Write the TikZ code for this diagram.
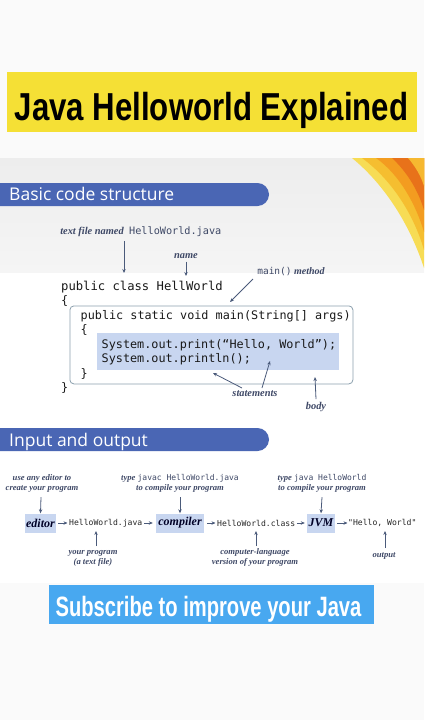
\documentclass[tikz,border=0pt]{standalone}
\usepackage{fontspec}
\setmainfont{Liberation Serif}
\newfontfamily\titlefont{Liberation Sans}
\newfontfamily\bannerfont{Open Sans}
\newfontfamily\codefont{DejaVu Sans Mono}
\usetikzlibrary{arrows.meta}
\definecolor{pagebg}{HTML}{FAFAFA}
\definecolor{slidegrey}{HTML}{EDEDED}
\definecolor{slidegreyb}{HTML}{F5F5F5}
\definecolor{ttlyellow}{HTML}{F5E035}
\definecolor{bannerblue}{HTML}{4A66B4}
\definecolor{subblue}{HTML}{48A8F0}
\definecolor{lblcol}{HTML}{3E4866}
\definecolor{arrcol}{HTML}{4A5A7A}
\definecolor{boxblue}{HTML}{C8D6F0}
\definecolor{bodyborder}{HTML}{8CA0AE}
\definecolor{swA}{HTML}{F7DC55}
\definecolor{swB}{HTML}{F5BE30}
\definecolor{swC}{HTML}{F39C20}
\definecolor{swD}{HTML}{E8721A}
\definecolor{swE}{HTML}{F6B830}
\tikzset{
  code/.style={inner sep=0pt, anchor=base west, font=\codefont\fontsize{11.8}{12}\selectfont, text=black!90},
  lbl/.style={inner sep=0pt, align=center, text=lblcol, font=\itshape\bfseries\fontsize{8.6}{10}\selectfont},
  biglbl/.style={inner sep=0pt, align=center, text=lblcol, font=\itshape\bfseries\fontsize{10.4}{11}\selectfont},
  rowmono/.style={inner sep=0pt, font=\codefont\fontsize{8.1}{9}\selectfont, text=black!85},
  proc/.style={fill=boxblue, inner sep=0pt, minimum height=19pt, text=black!85!blue, font=\itshape\bfseries\fontsize{12}{12}\selectfont},
  arr/.style={draw=arrcol, line width=0.8pt, -{Stealth[length=4pt,width=3.4pt]}},
  bannertext/.style={inner sep=0pt, anchor=base west, text=white, font=\bannerfont\fontsize{17.5}{17}\selectfont}
}
\begin{document}
\begin{tikzpicture}[x=1pt,y=-1pt]
\useasboundingbox (0,0) rectangle (424,720);
\fill[pagebg] (0,0) rectangle (424,720);
% slide
\fill[white] (0,158) rectangle (424,583);
\shade[top color=slidegrey, bottom color=slidegreyb] (0,158) rectangle (424,272);
% swoosh
\fill[swA] (352,158) .. controls (385,185) and (410,225) .. (424,268) -- (424,158) -- cycle;
\fill[swB] (362,158) .. controls (392,180) and (414,215) .. (424,250) -- (424,158) -- cycle;
\fill[swC] (376,158) .. controls (400,175) and (416,205) .. (424,232) -- (424,158) -- cycle;
\fill[swD] (392,158) .. controls (407,172) and (418,190) .. (424,210) -- (424,158) -- cycle;
\fill[swE] (408,158) .. controls (415,166) and (421,176) .. (424,186) -- (424,158) -- cycle;
% title
\node[fill=ttlyellow, minimum width=410pt, minimum height=60pt, inner sep=0pt] (titlebox) at (212,102) {};
\node[inner sep=0pt] (title) at (211.5,110) {\titlefont\bfseries\fontsize{39}{39}\selectfont\scalebox{0.8}[1]{Java Helloworld Explained}};
% banners
\fill[bannerblue, rounded corners=11.5pt] (-20,183) rectangle (269,206);
\node[bannertext] (b1) at (9,200.5) {Basic code structure};
\fill[bannerblue, rounded corners=11.5pt] (-20,428) rectangle (269,451);
\node[bannertext] (b2) at (9,446) {Input and output};
% code
\node[code, font=\codefont\fontsize{12.2}{12}\selectfont] (cls) at (61,290) {public class HellWorld};
\node[code] (ob1) at (61,304) {\{};
\node[draw=bodyborder, line width=0.8pt, rounded corners=4pt, fill=white, minimum width=283pt, minimum height=78pt, inner sep=0pt, anchor=north west] (body) at (69.5,305.5) {};
\node[code] (sig) at (80.5,319) {public static void main(String[] args)};
\node[code] (ob2) at (80.5,333) {\{};
\node[fill=boxblue, minimum width=242pt, minimum height=37pt, inner sep=0pt, anchor=north west] (stm) at (97,333) {};
\node[code] (s1) at (101.5,348) {System.out.print(“Hello, World”);};
\node[code] (s2) at (101.5,362) {System.out.println();};
\node[code] (cb2) at (80.5,377) {\}};
\node[code] (cb1) at (61,391) {\}};
% labels top
\node[biglbl, anchor=east] (tfn) at (124,232) {text file named};
\node[inner sep=0pt, anchor=west, text=lblcol, font=\codefont\fontsize{10.2}{11}\selectfont] (tfnmono) at (129,232) {HelloWorld.java};
\coordinate (tfnend) at (124,273);
\draw[arr] (tfn.south east) ++(0,4) -- (tfnend);
\node[biglbl] (name) at (186,256) {name};
\coordinate (nameend) at (186,276);
\draw[arr] (name.south) ++(0,3) -- (nameend);
\node[inner sep=0pt, text=lblcol] (mm) at (291,272) {{\codefont\fontsize{9.5}{10}\selectfont main()} {\itshape\bfseries\fontsize{10}{10}\selectfont method}};
\coordinate (mmtail) at (253,279);
\coordinate (mmend) at (230,302);
\draw[arr] (mmtail) -- (mmend);
\node[biglbl] (stmts) at (255,394) {statements};
\coordinate (st1) at (242,388);
\coordinate (st1end) at (213,373);
\coordinate (st2) at (262,388);
\coordinate (st2end) at (270,361);
\draw[arr] (st1) -- (st1end);
\draw[arr] (st2) -- (st2end);
\node[biglbl] (bodylbl) at (316,407) {body};
\coordinate (bodyend) at (315,377);
\draw[arr] (bodylbl.north) ++(0,-3) -- (bodyend);
% IO captions
\node[lbl] (cap1) at (42,483) {use any editor to\\create your program};
\node[lbl] (cap2) at (180,483) {type {\codefont\mdseries\upshape\fontsize{8}{10}\selectfont javac HelloWorld.java}\\to compile your program};
\node[lbl] (cap3) at (322,483) {type {\codefont\mdseries\upshape\fontsize{8}{10}\selectfont java HelloWorld}\\to compile your program};
% row
\node[proc, minimum width=31pt] (ed) at (40.5,523) {editor};
\node[rowmono, anchor=west] (hwj) at (69,523) {HelloWorld.java};
\node[proc, minimum width=48pt] (comp) at (180,523) {compiler};
\node[rowmono, anchor=west] (hwc) at (217,523) {HelloWorld.class};
\node[proc, minimum width=28pt] (jvm) at (321,523) {JVM};
\node[rowmono, anchor=west] (hw) at (348,523) {"Hello, World"};
\draw[arr] (cap1.south) ++(-1,5) -- (ed.north);
\draw[arr] (cap2.south) ++(0,5) -- (comp.north);
\draw[arr] (cap3.south) ++(0,5) -- (jvm.north);
\draw[arr] (ed.east) ++(2,0) -- ([xshift=-1.5pt]hwj.west);
\draw[arr] (hwj.east) ++(1.5,0) -- ([xshift=-3pt]comp.west);
\draw[arr] (comp.east) ++(3,0) -- ([xshift=-1.5pt]hwc.west);
\draw[arr] (hwc.east) ++(1.5,0) -- ([xshift=-2pt]jvm.west);
\draw[arr] (jvm.east) ++(2,0) -- ([xshift=-0.5pt]hw.west);
% bottom labels
\node[lbl] (yp) at (93,558) {your program\\(a text file)};
\node[lbl] (cl) at (255,557) {computer-language\\version of your program};
\node[lbl] (out) at (384,556) {output};
\coordinate (ypend) at (96,531);
\coordinate (clend) at (256,531);
\coordinate (outend) at (385,531);
\draw[arr] (96,546) -- (ypend);
\draw[arr] (256,546) -- (clend);
\draw[arr] (385,548) -- (outend);
% subscribe
\node[fill=subblue, minimum width=325pt, minimum height=39pt, inner sep=0pt] (subbox) at (211.5,604.5) {};
\node[inner sep=0pt, text=white] (sub) at (208.5,609.4) {\titlefont\bfseries\fontsize{28}{28}\selectfont\scalebox{0.72}[1]{Subscribe to improve your Java}};
\end{tikzpicture}
\end{document}
